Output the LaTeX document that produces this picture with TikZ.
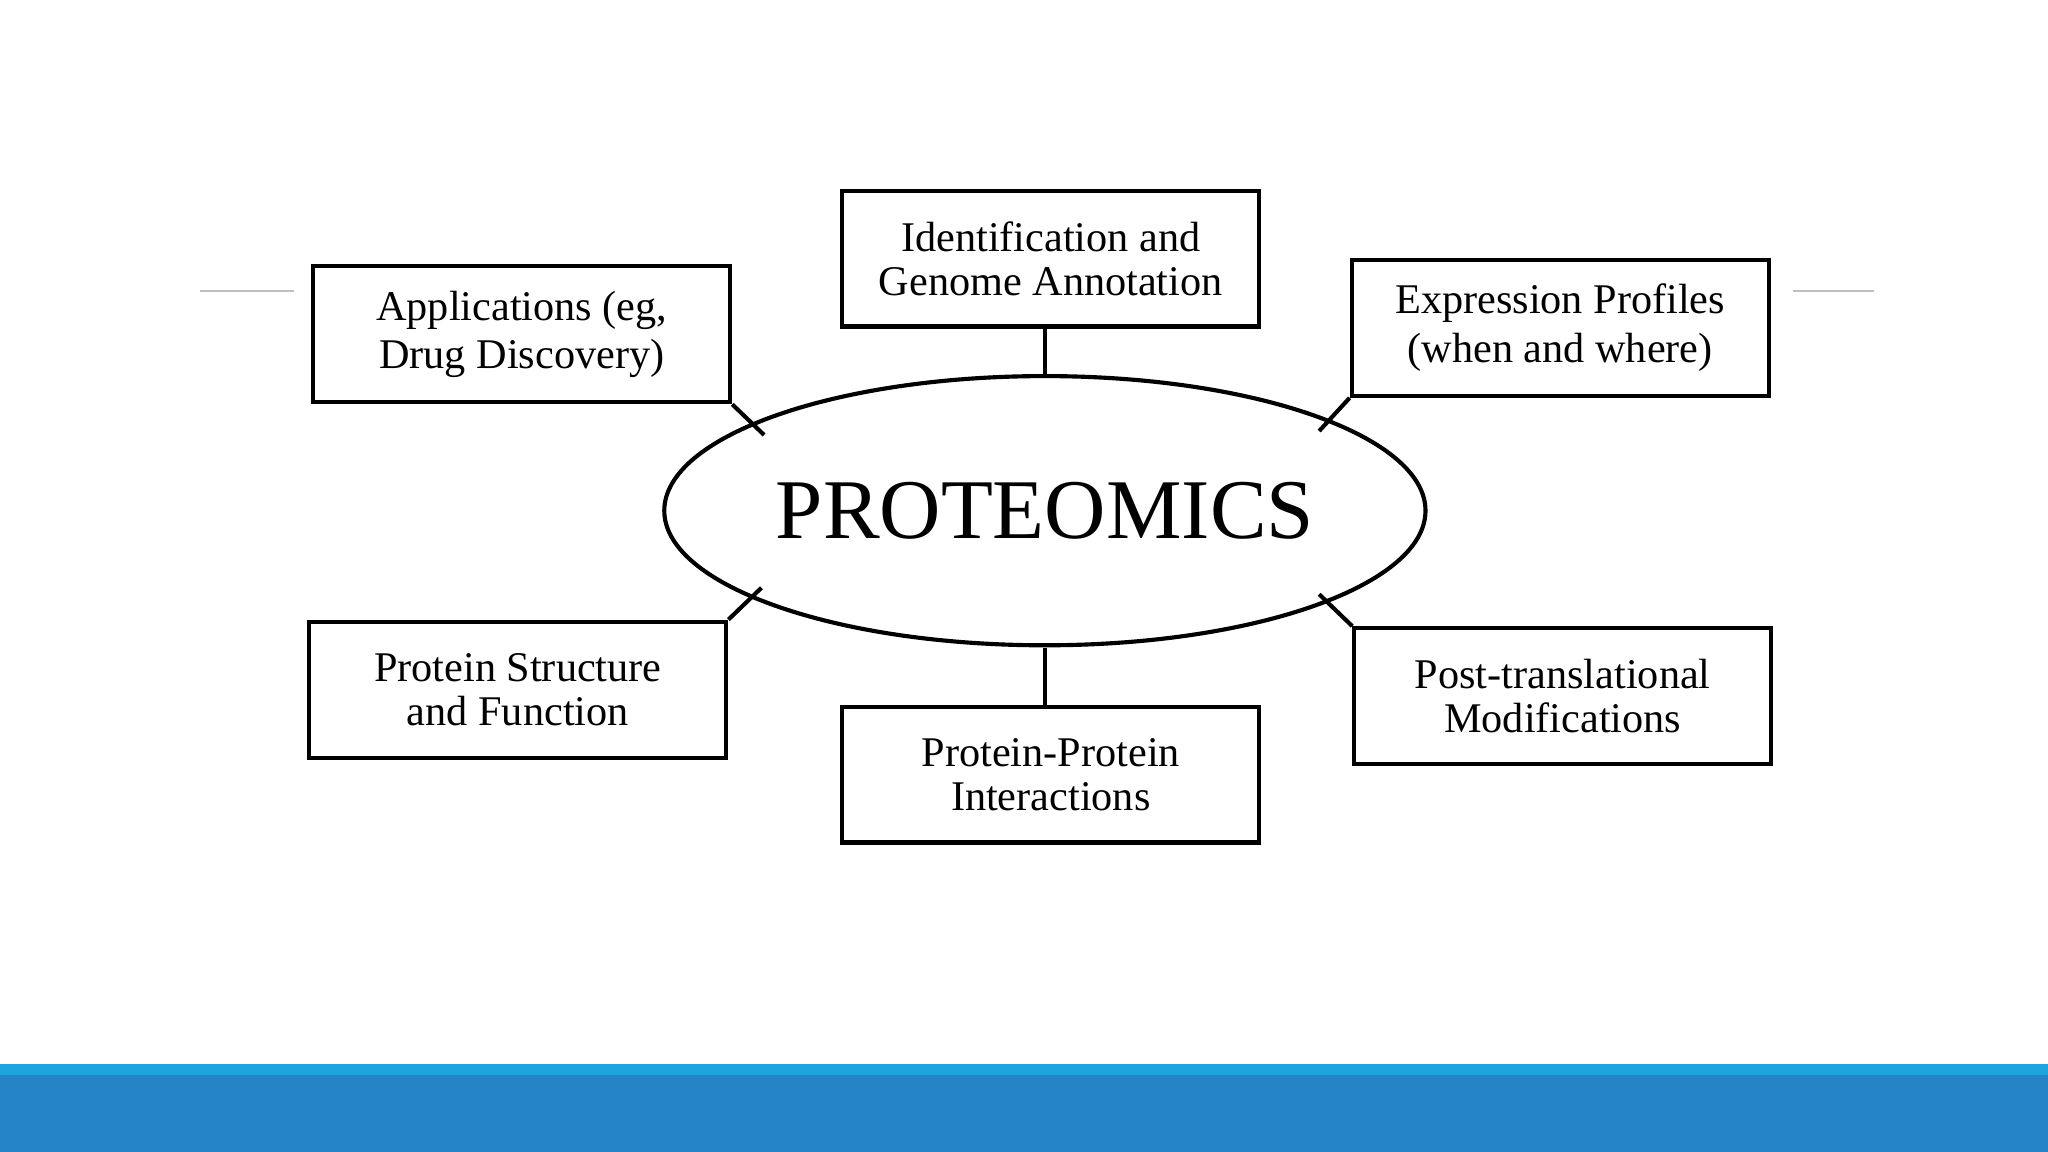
\documentclass[tikz,border=0pt]{standalone}
\usepackage{fontspec}
\setmainfont{Liberation Serif}
\usetikzlibrary{shapes.geometric}
\definecolor{barlight}{HTML}{1FA5DE}
\definecolor{bardark}{HTML}{2584C6}
\begin{document}
\begin{tikzpicture}[x=0.01cm,y=-0.01cm,
  box/.style={draw,line width=0.9pt,minimum width=3.19cm,minimum height=1.04cm,inner sep=0pt,align=center,font=\fontsize{9.2}{9.6}\selectfont},
  conn/.style={line width=0.9pt}]
\useasboundingbox (0,0) rectangle (1568,882);
\fill[white] (0,0) rectangle (1568,882);
\fill[barlight] (0,815) rectangle (1568,823);
\fill[bardark] (0,823) rectangle (1568,882);
\draw[gray!50,line width=0.4pt] (153,223) -- (225,223);
\draw[gray!50,line width=0.4pt] (1373,223) -- (1435,223);
\node[draw,ellipse,line width=0.9pt,minimum width=5.14cm,minimum height=2.06cm,inner sep=0pt,font=\fontsize{18.5}{20}\selectfont] (ell) at (800,391) {PROTEOMICS};
\node[box] (app) at (399.5,256) {Applications (eg,\\[1pt]Drug Discovery)};
\node[box] (ide) at (804.5,198) {Identification and\\Genome Annotation};
\node[box] (exp) at (1194.5,251) {Expression Profiles\\[1pt](when and where)};
\node[box] (str) at (396.5,528) {Protein Structure\\and Function};
\node[box] (ppi) at (804.5,593) {Protein-Protein\\Interactions};
\node[box] (ptm) at (1196.5,533) {Post-translational\\Modifications};
\coordinate (e1) at (585,333);
\coordinate (e2) at (1010,330);
\coordinate (e3) at (583,450);
\coordinate (e4) at (1010,455);
\coordinate (et) at (800,288);
\coordinate (eb) at (800,496);
\coordinate (it) at (800,250);
\coordinate (ib) at (800,541);
\draw[conn] (app.south east) -- (e1);
\draw[conn] (exp.south west) -- (e2);
\draw[conn] (str.north east) -- (e3);
\draw[conn] (ptm.north west) -- (e4);
\draw[conn] (it) -- (et);
\draw[conn] (ib) -- (eb);
\end{tikzpicture}
\end{document}
